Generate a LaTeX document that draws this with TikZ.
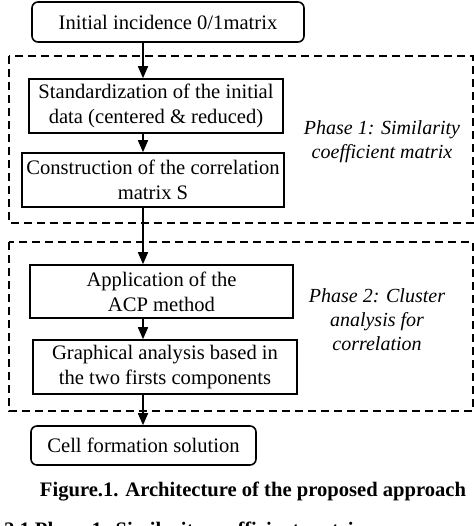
\documentclass[tikz,border=0pt]{standalone}
\usepackage{fontspec}
\setmainfont{Liberation Serif}
\usetikzlibrary{arrows.meta, calc}

\tikzset{
  stepbox/.style={draw, line width=0.8pt, inner sep=0pt, align=center},
  endbox/.style={stepbox, rounded corners=3pt},
  phasebox/.style={draw, line width=0.8pt, dash pattern=on 4pt off 2.5pt},
  phasetext/.style={align=center, font=\itshape},
  flow/.style={line width=0.8pt, -{Triangle[length=6pt, width=5pt]}}
}

\begin{document}
\begin{tikzpicture}[x=0.5pt, y=-0.5pt, font=\fontsize{10.3}{12.5}\selectfont]
	\useasboundingbox (0,0) rectangle (474,526);
	
	% Phases (dashed frames)
	\draw[phasebox] (9,56) rectangle (473,223);
	\draw[phasebox] (9,242) rectangle (473,411);
	
	% Steps of the approach
	\node[endbox, minimum width=136pt, minimum height=20pt] (init) at (168,22) {Initial incidence 0/1matrix};
	\node[stepbox, minimum width=127pt, minimum height=27pt] (stand) at (156,106) {Standardization of the initial\\data (centered \& reduced)};
	\node[stepbox, minimum width=131pt, minimum height=27pt] (corr) at (153,180) {Construction of the correlation\\matrix S};
	\node[stepbox, minimum width=131.5pt, minimum height=26.5pt] (acp) at (161.5,291.5) {Application of the\\ACP method};
	\node[stepbox, minimum width=132pt, minimum height=27pt] (graph) at (165,367) {Graphical analysis based in\\the two firsts components};
	\node[endbox, minimum width=112.5pt, minimum height=19.5pt] (cell) at (143.5,445.5) {Cell formation solution};
	
	% Phase labels
	\node[phasetext] (ph1) at (382,142) {Phase 1: Similarity\\coefficient matrix};
	\node[phasetext] (ph2) at (377,320) {Phase 2: Cluster\\analysis for\\correlation};
	
	% Flow along the steps
	\coordinate (axis) at (143,0);
	\draw[flow] (init.south -| axis) -- (stand.north -| axis);
	\draw[flow] (stand.south -| axis) -- (corr.north -| axis);
	\draw[flow] (corr.south -| axis) -- (acp.north -| axis);
	\draw[flow] (acp.south -| axis) -- (graph.north -| axis);
	\draw[flow] (graph.south -| axis) -- (cell.north -| axis);
	
	% Caption
	\node[font=\fontsize{10.3}{12.5}\selectfont\bfseries] (cap) at (253,492) {Figure.1. Architecture of the proposed approach};
	\node[anchor=west, font=\fontsize{10.3}{12.5}\selectfont\bfseries] (sec) at (-3,531) {2.1 Phase 1: Similarity coefficient matrix};
\end{tikzpicture}
\end{document}
